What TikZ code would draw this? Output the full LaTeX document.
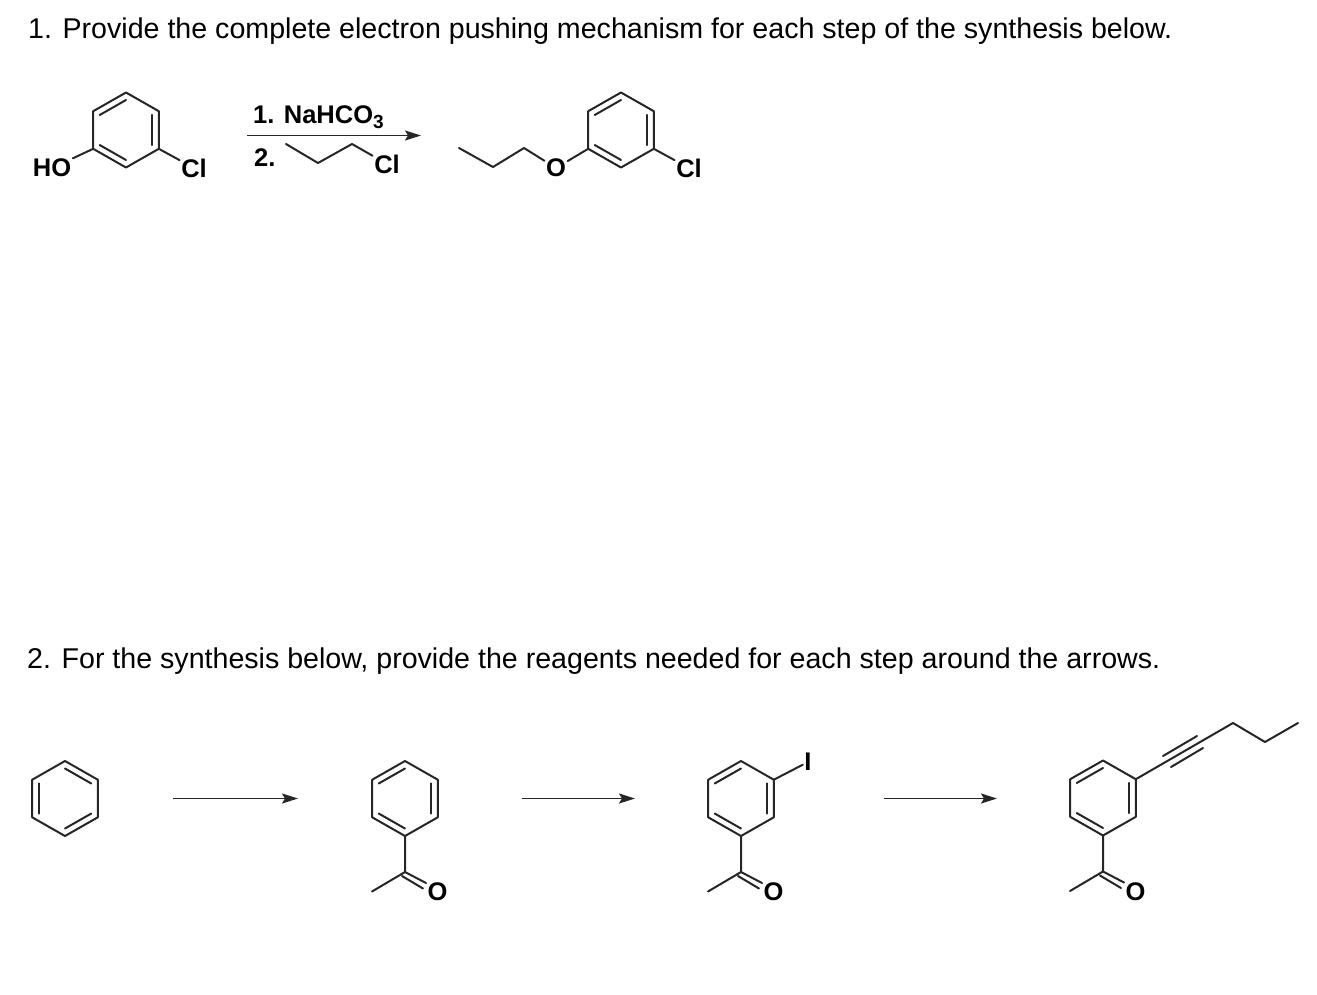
\documentclass[tikz,border=0pt]{standalone}
\usepackage{fontspec}
\setmainfont{Liberation Sans}
\usetikzlibrary{calc,arrows.meta}
\definecolor{ink}{HTML}{262626}
\tikzset{
  x=1pt,y=-1pt,
  bond/.style={draw=ink,line width=2pt,line cap=round,line join=round},
  rxn/.style={draw=ink,line width=1.8pt,-{Stealth[length=16pt,width=10pt,inset=3pt]}},
  atom/.style={font=\fontsize{25.5}{26}\selectfont\bfseries,text=black,inner sep=1.5pt},
  reagent/.style={font=\fontsize{25.5}{26}\selectfont\bfseries,text=black,inner sep=0pt,anchor=base west},
  heading/.style={font=\fontsize{28.6}{30}\selectfont,text=black,inner sep=0pt,anchor=base west},
}
% ring corners n1 (top) clockwise to n6; centre nc
\newcommand{\ringpts}[3]{%
  \coordinate (#1c) at (#2,#3);
  \coordinate (#11) at (#2,#3-37.5);
  \coordinate (#12) at (#2+32.8,#3-18.8);
  \coordinate (#13) at (#2+32.8,#3+18.8);
  \coordinate (#14) at (#2,#3+37.5);
  \coordinate (#15) at (#2-32.8,#3+18.8);
  \coordinate (#16) at (#2-32.8,#3-18.8);
  \draw[bond] (#11)--(#12)--(#13)--(#14)--(#15)--(#16)--cycle;
}
\newcommand{\inner}[3]{\draw[bond] ($(#1#2)!.2!(#1c)$) -- ($(#1#3)!.2!(#1c)$);}
\newcommand{\metaring}[3]{\ringpts{#1}{#2}{#3}\inner{#1}{6}{1}\inner{#1}{2}{3}\inner{#1}{4}{5}}
% acetyl group below a ring whose bottom corner is n4
\newcommand{\acetyl}[3]{%
  \coordinate (#1k) at (#2,#3+73.5);
  \coordinate (#1m) at (#2-33,#3+93);
  \node[atom] (#1o) at (#2+32.5,#3+93.5) {O};
  \draw[bond] (#14) -- (#1k) -- (#1m);
  \draw[bond] (#1k) -- ($(#1k)+(21,11)$);
  \draw[bond] ($(#1k)+(-3,4)$) -- ($(#1k)+(18,16.5)$);
}
\newcommand{\subthree}{\raisebox{-5pt}{\fontsize{19}{19}\selectfont 3}}
\begin{document}
\begin{tikzpicture}
\useasboundingbox[fill=white] (0,0) rectangle (1317,994);

\node[heading] (h1) at (28,38.5) {1. Provide the complete electron pushing mechanism for each step of the synthesis below.};
\node[heading] (h2) at (27,668.5) {2. For the synthesis below, provide the reagents needed for each step around the arrows.};

% --- first scheme: reactant
\metaring{a}{126}{130}
\node[atom] (ho) at (52,168) {HO};
\node[atom] (acl) at (194,168) {Cl};
\draw[bond] (ho) -- (a5);
\draw[bond] (a3) -- (acl);

% reagents
\coordinate (r1s) at (247,135.5);
\coordinate (r1e) at (421,135.5);
\draw[rxn] (r1s) -- (r1e);
\node[reagent] (na) at (253,123) {1. NaHCO\subthree};
\node[reagent] (two) at (254,166) {2.};
\coordinate (c1) at (286,144);
\coordinate (c2) at (318,163);
\coordinate (c3) at (352,144);
\node[atom] (rcl) at (387,164) {Cl};
\draw[bond] (c1) -- (c2) -- (c3) -- (rcl);

% product
\metaring{b}{621}{130}
\node[atom] (bcl) at (689,168) {Cl};
\node[atom] (bo) at (556,168) {O};
\coordinate (p1) at (459,148);
\coordinate (p2) at (493,167);
\coordinate (p3) at (524,148);
\draw[bond] (p1) -- (p2) -- (p3) -- (bo) -- (b5);
\draw[bond] (b3) -- (bcl);

% --- second scheme
\ringpts{e}{65}{798.5}
\inner{e}{1}{2}\inner{e}{3}{4}\inner{e}{5}{6}

\coordinate (s1) at (173,798.5);
\coordinate (s1e) at (298,798.5);
\draw[rxn] (s1) -- (s1e);

\metaring{f}{405}{798.5}
\acetyl{f}{405}{798.5}

\coordinate (s2) at (522,798.5);
\coordinate (s2e) at (635,798.5);
\draw[rxn] (s2) -- (s2e);

\metaring{g}{741}{798.5}
\acetyl{g}{741}{798.5}
\node[atom] (gi) at (808,762) {I};
\draw[bond] (g2) -- (gi);

\coordinate (s3) at (884,798.5);
\coordinate (s3e) at (997,798.5);
\draw[rxn] (s3) -- (s3e);

\metaring{k}{1103}{798}
\acetyl{k}{1103}{798}
\coordinate (t4) at (1233,723);
\coordinate (t5) at (1265,742);
\coordinate (t6) at (1298,723);
\draw[bond] (k2) -- (t4) -- (t5) -- (t6);
\coordinate (y1) at (1163,756);
\coordinate (y2) at (1197,736);
\coordinate (y3) at (1171,767);
\coordinate (y4) at (1203,748);
\draw[bond] (y1) -- (y2);
\draw[bond] (y3) -- (y4);
\end{tikzpicture}
\end{document}
